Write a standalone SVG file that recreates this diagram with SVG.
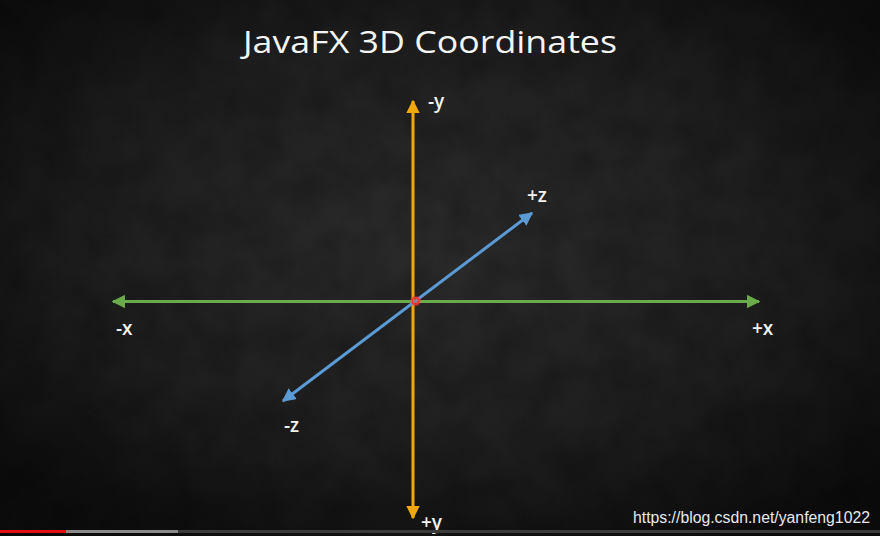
<svg xmlns="http://www.w3.org/2000/svg" width="880" height="536" viewBox="0 0 880 536">
<style>
.lbl{font-family:"Open Sans","Liberation Sans",sans-serif;font-size:19px;font-weight:600;fill:#f2f2f2}
.ax{stroke-width:3;fill:none}
</style>
<defs>
<radialGradient id="bg" cx="0.5" cy="0.45" r="0.65">
<stop offset="0" stop-color="#2b2b2b"/>
<stop offset="0.6" stop-color="#1e1e1e"/>
<stop offset="1" stop-color="#0c0c0c"/>
</radialGradient>
<filter id="grain" x="0" y="0" width="100%" height="100%">
<feTurbulence type="fractalNoise" baseFrequency="0.025" numOctaves="4" seed="7"/>
<feColorMatrix type="matrix" values="0 0 0 0 0  0 0 0 0 0  0 0 0 0 0  0 0 0 -1.1 0.75"/>
</filter>
<marker id="ag" viewBox="0 0 10 10" refX="9" refY="5" markerWidth="4.5" markerHeight="4.5" orient="auto-start-reverse"><path d="M0,0 L10,5 L0,10 z" fill="#6aaa4a"/></marker>
<marker id="ay" viewBox="0 0 10 10" refX="9" refY="5" markerWidth="4.5" markerHeight="4.5" orient="auto-start-reverse"><path d="M0,0 L10,5 L0,10 z" fill="#f0a80c"/></marker>
<marker id="ab" viewBox="0 0 10 10" refX="9" refY="5" markerWidth="4.5" markerHeight="4.5" orient="auto-start-reverse"><path d="M0,0 L10,5 L0,10 z" fill="#5b9bd5"/></marker>
</defs>
<rect width="880" height="536" fill="url(#bg)"/>
<rect width="880" height="536" filter="url(#grain)" opacity="0.35"/>
<text x="430" y="53" text-anchor="middle" textLength="374" lengthAdjust="spacingAndGlyphs" style="font-family:'Open Sans','Liberation Sans',sans-serif;font-size:31px;font-weight:400;fill:#f4f4f4">JavaFX 3D Coordinates</text>
<g id="connectors">
<line id="x-axis" class="ax" x1="113" y1="301.5" x2="759" y2="301.5" stroke="#6aaa4a" marker-start="url(#ag)" marker-end="url(#ag)"/>
<line id="y-axis" class="ax" x1="413" y1="101" x2="413" y2="518" stroke="#f0a80c" marker-start="url(#ay)" marker-end="url(#ay)"/>
<line id="z-axis" class="ax" x1="283" y1="401" x2="532" y2="213" stroke="#5b9bd5" marker-start="url(#ab)" marker-end="url(#ab)"/>
</g>
<g id="origin"><circle cx="415.5" cy="301" r="5.5" fill="#ff4040" opacity="0.35"/><circle cx="415.5" cy="301" r="3.2" fill="none" stroke="#ff3030" stroke-width="1.6"/></g>
<g id="label-neg-y"><text class="lbl" x="428" y="108">-y</text></g>
<g id="label-pos-z"><text class="lbl" x="527" y="202">+z</text></g>
<g id="label-neg-x"><text class="lbl" x="116" y="335">-x</text></g>
<g id="label-pos-x"><text class="lbl" x="752" y="335">+x</text></g>
<g id="label-neg-z"><text class="lbl" x="284" y="432">-z</text></g>
<g id="label-pos-y"><text class="lbl" x="421" y="529">+y</text></g>
<text x="633" y="523" textLength="237" lengthAdjust="spacingAndGlyphs" style="font-family:'Liberation Sans',sans-serif;font-size:16px;fill:#e8e8e8">https://blog.csdn.net/yanfeng1022</text>
<rect x="0" y="530" width="880" height="3" fill="#3c3c3c"/>
<rect x="66" y="530" width="112" height="3" fill="#8a8a8a"/>
<rect x="0" y="530" width="66" height="3" fill="#e01010"/>
</svg>
